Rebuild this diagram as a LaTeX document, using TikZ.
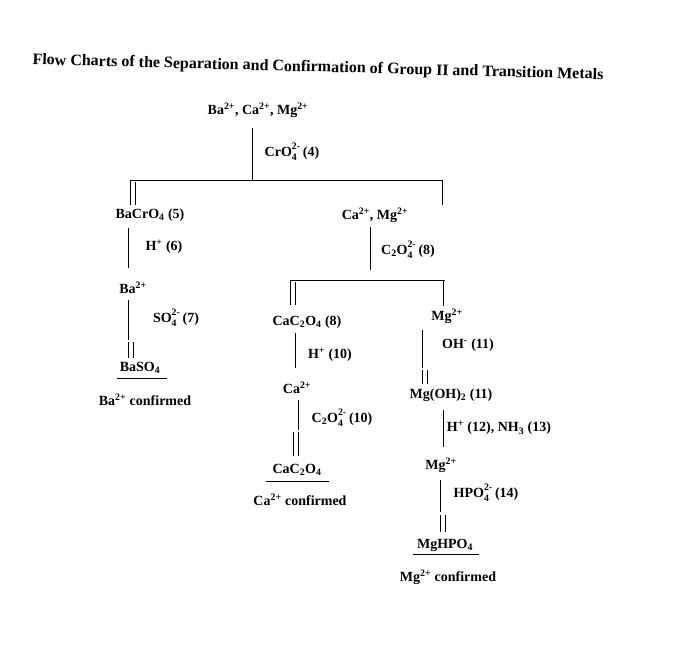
\documentclass[tikz,border=0pt]{standalone}
\usepackage{fontspec}
\setmainfont{Liberation Serif}
\newcommand{\up}[1]{\textsuperscript{#1}}
\newcommand{\dn}[1]{\textsubscript{#1}}
\newcommand{\ionx}[2]{\rlap{\raisebox{-0.15em}{\textsubscript{#1}}}\raisebox{0.1em}{\textsuperscript{#2}}}
\begin{document}
\begin{tikzpicture}[x=1pt,y=-1pt,
  t/.style={font=\bfseries\fontsize{14}{16}\selectfont,inner sep=1pt},
  ln/.style={line width=0.9pt}]
\useasboundingbox (0,0) rectangle (700,646);
\node[t,font=\bfseries\fontsize{16}{18}\selectfont,rotate=-1.5] (title) at (318,68) {Flow Charts of the Separation and Confirmation of Group II and Transition Metals};
\node[t] (top) at (258,110) {Ba\up{2+}, Ca\up{2+}, Mg\up{2+}};
\node[t] (cro) at (292,152) {CrO\ionx{4}{2-}\,(4)};
\draw[ln] (252,128) -- (252,180);
\draw[ln] (130,180) -- (442,180);
\draw[ln] (130,180) -- (130,205); \draw[ln] (135,182) -- (135,205);
\node[t] (bacro) at (150,215) {BaCrO\dn{4} (5)};
\draw[ln] (128,228) -- (128,268);
\node[t] (h6) at (164,247) {H\up{+} (6)};
\node[t] (ba) at (133,288) {Ba\up{2+}};
\draw[ln] (128,300) -- (128,340);
\node[t] (so4) at (176,318) {SO\ionx{4}{2-}\,(7)};
\draw[ln] (128,342) -- (128,358); \draw[ln] (133,342) -- (133,358);
\node[t] (baso) at (140,368) {BaSO\dn{4}};
\draw[ln] (117,378) -- (167,378);
\node[t] (bac) at (145,400) {Ba\up{2+} confirmed};
\draw[ln] (442,180) -- (442,205);
\node[t] (camg) at (375,215) {Ca\up{2+}, Mg\up{2+}};
\draw[ln] (370,227) -- (370,270);
\node[t] (c2o8) at (408,250) {C\dn{2}O\ionx{4}{2-}\,(8)};
\draw[ln] (290,280) -- (445,280);
\draw[ln] (290,280) -- (290,305); \draw[ln] (295,282) -- (295,305);
\node[t] (caco8) at (307,322) {CaC\dn{2}O\dn{4} (8)};
\draw[ln] (295,333) -- (295,368);
\node[t] (h10) at (330,355) {H\up{+} (10)};
\node[t] (ca) at (297,388) {Ca\up{2+}};
\draw[ln] (298,400) -- (298,430);
\node[t] (c2o10) at (342,418) {C\dn{2}O\ionx{4}{2-}\,(10)};
\draw[ln] (293,432) -- (293,456); \draw[ln] (298,432) -- (298,456);
\node[t] (caco) at (297,470) {CaC\dn{2}O\dn{4}};
\draw[ln] (266,481) -- (329,481);
\node[t] (cac) at (300,500) {Ca\up{2+} confirmed};
\draw[ln] (443,280) -- (443,306);
\node[t] (mg) at (447,316) {Mg\up{2+}};
\draw[ln] (422,330) -- (422,368);
\node[t] (oh) at (468,345) {OH\up{-} (11)};
\draw[ln] (422,370) -- (422,384); \draw[ln] (427,370) -- (427,384);
\node[t] (mgoh) at (451,395) {Mg(OH)\dn{2} (11)};
\draw[ln] (443,410) -- (443,447);
\node[t] (hn) at (499,428) {H\up{+} (12), NH\dn{3} (13)};
\node[t] (mg2) at (441,465) {Mg\up{2+}};
\draw[ln] (440,480) -- (440,512);
\node[t] (hpo) at (486,493) {HPO\ionx{4}{2-}\,(14)};
\draw[ln] (440,515) -- (440,532); \draw[ln] (445,515) -- (445,532);
\node[t] (mghpo) at (445,545) {MgHPO\dn{4}};
\draw[ln] (413,554) -- (479,554);
\node[t] (mgc) at (448,577) {Mg\up{2+} confirmed};
\end{tikzpicture}
\end{document}
